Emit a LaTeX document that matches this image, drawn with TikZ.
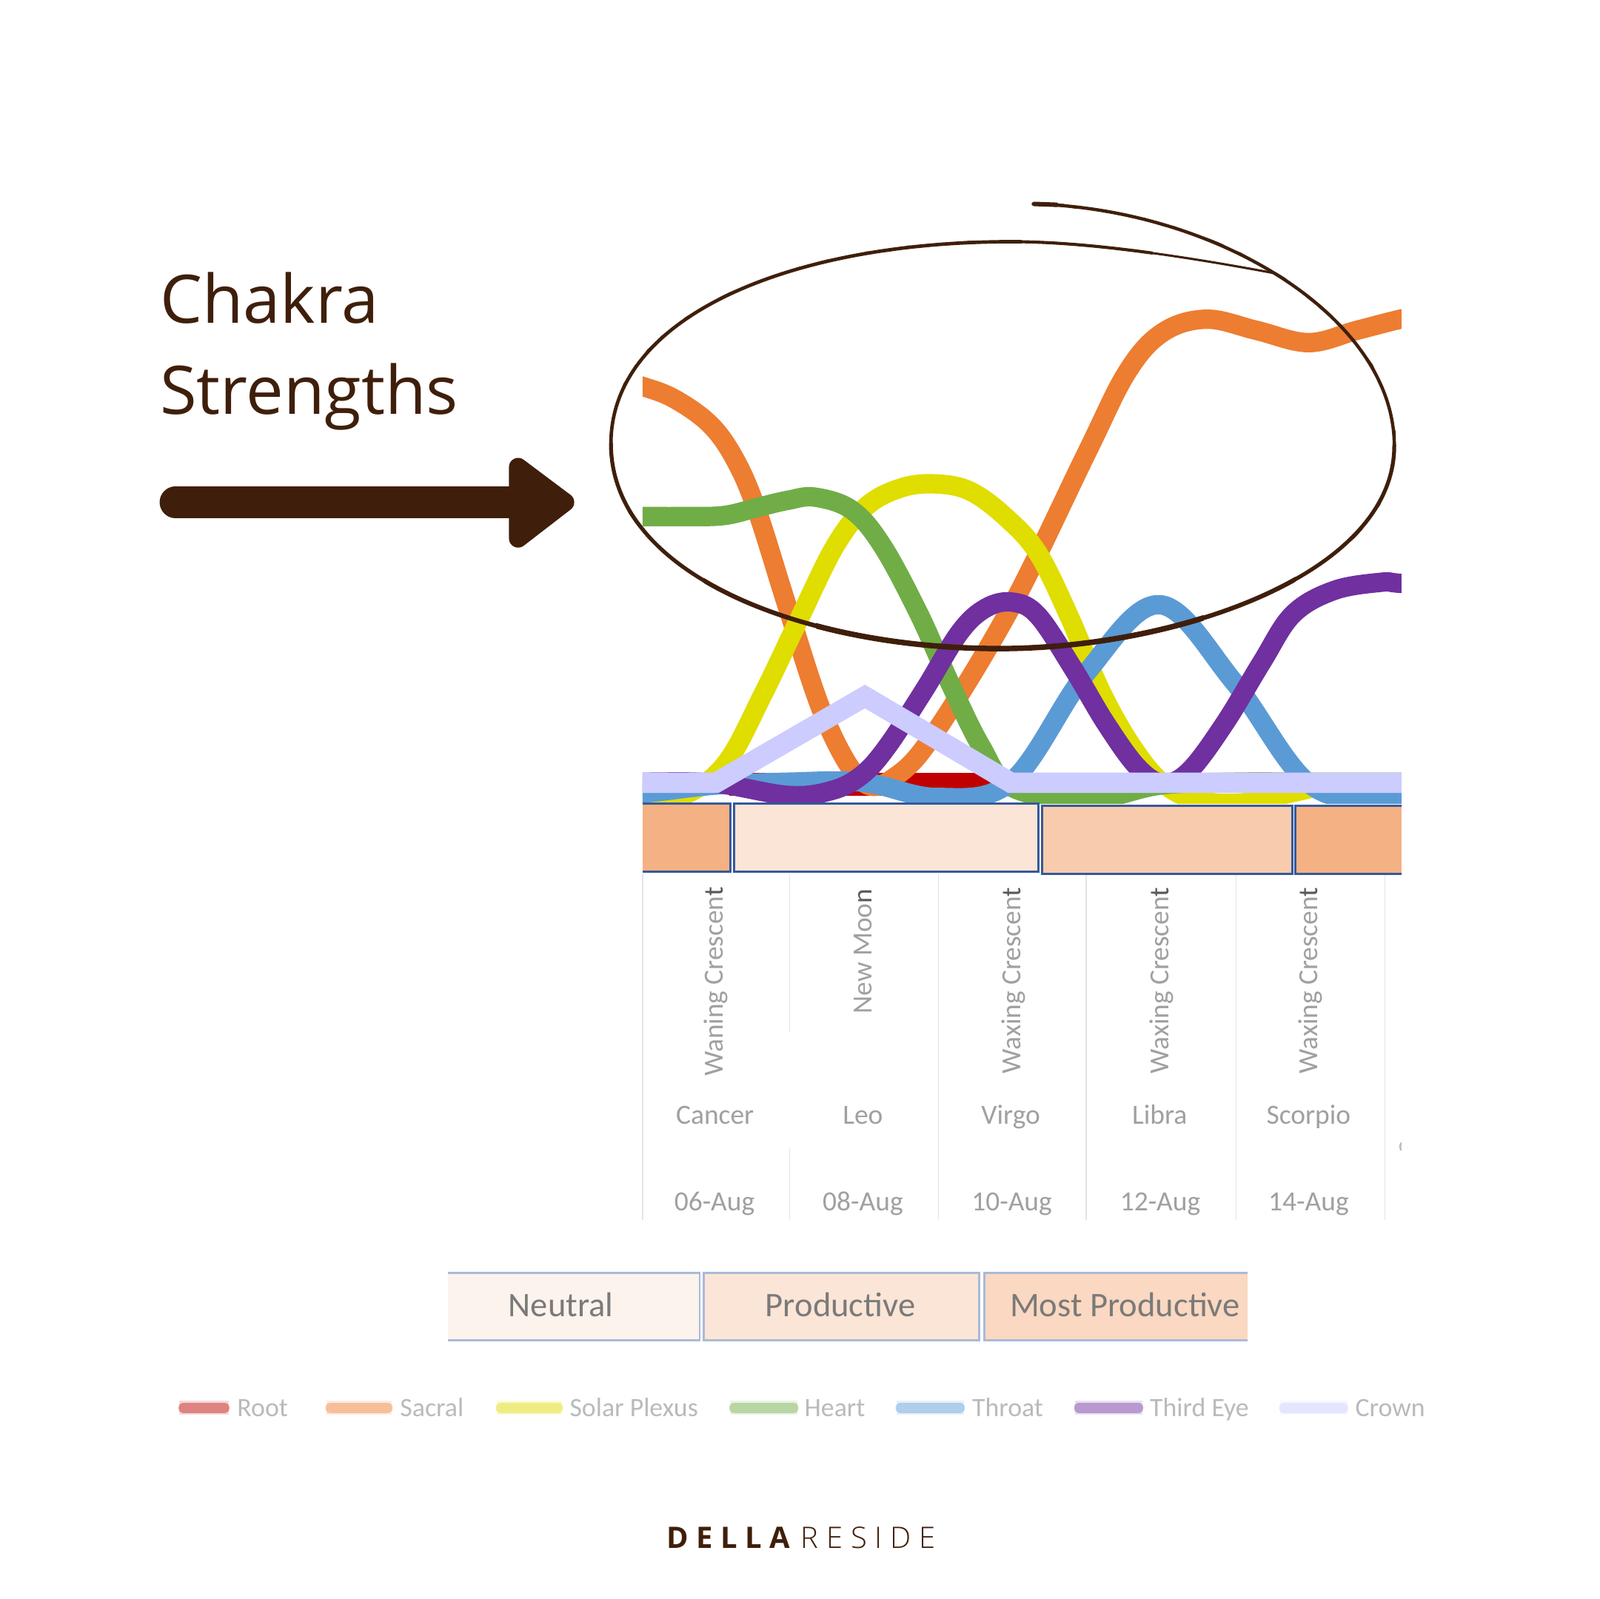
\documentclass[tikz,border=0pt]{standalone}
\usepackage{fontspec}
\setmainfont{Open Sans}
\newfontfamily\calib{Carlito}
\newfontfamily\oslight{Open Sans Light}
\usetikzlibrary{decorations.pathmorphing}
\definecolor{brn}{HTML}{3F1F0B}
\definecolor{cRoot}{HTML}{C00000}
\definecolor{cSacral}{HTML}{ED7D31}
\definecolor{cSolar}{HTML}{E0DD00}
\definecolor{cHeart}{HTML}{70AD47}
\definecolor{cThroat}{HTML}{5B9BD5}
\definecolor{cEye}{HTML}{7030A0}
\definecolor{cCrown}{HTML}{CCCCFF}
\definecolor{bord}{HTML}{36599B}
\definecolor{lbord}{HTML}{A9BAD8}
\definecolor{bA}{HTML}{F4B183}
\definecolor{bB}{HTML}{FBE5D6}
\definecolor{bC}{HTML}{F8CBAD}
\definecolor{gridc}{HTML}{E4E4E4}
\definecolor{tgray}{HTML}{A0A0A0}
\definecolor{tdark}{HTML}{5A5A5A}
\newcommand{\ringA}{(1013,200) .. controls (1195,205) and (1367,312) .. (1367,437)}
\newcommand{\ringB}{(1367,437) .. controls (1367,565) and (1150,636) .. (980,636)}
\newcommand{\ringC}{(980,636) .. controls (790,636) and (599,565) .. (599,435)}
\newcommand{\ringD}{(599,435) .. controls (599,310) and (775,237) .. (992,237)}
\newcommand{\ringE}{(992,237) .. controls (1070,237) and (1170,253) .. (1250,268)}
\tikzset{
  x=0.5pt,y=-0.5pt,
  chartline/.style={line width=9.5pt,line cap=butt,line join=round},
  hand/.style={draw=brn,line cap=round,line join=round},
  rough/.style={draw=brn,line width=.9pt,decorate,decoration={random steps,segment length=5pt,amplitude=.45pt}},
  vlab/.style={rotate=90,font=\calib\fontsize{13.55pt}{14pt}\selectfont,text=tgray,inner sep=0pt},
  hlab/.style={font=\calib\fontsize{13.6pt}{14pt}\selectfont,text=tgray,inner sep=0pt,anchor=base},
  band/.style={fill=#1,draw=none},
  bline/.style={draw=bord,line width=1pt},
  keybox/.style={fill=#1,draw=none},
  kline/.style={draw=lbord,line width=1pt},
  keytext/.style={font=\calib\fontsize{16.9pt}{18pt}\selectfont,text=black!52,inner sep=0pt,anchor=base},
  legt/.style={font=\calib\fontsize{13pt}{14pt}\selectfont,text=black!27,inner sep=0pt,anchor=base},
  title/.style={font=\fontsize{32.8pt}{36pt}\selectfont,text=brn,anchor=base west,inner sep=0pt},
  gridl/.style={draw=gridc,line width=0.5pt},
}
\begin{document}
\begin{tikzpicture}
\useasboundingbox[fill=white] (0,0) rectangle (1568,1568);

% title and arrow
\node[title] (t1) at (156.5,317) {Chakra};
\node[title] (t2) at (156.5,406) {Strengths};
\draw[brn,line width=15.5pt,line cap=round] (172,492.5) -- (510,492.5);
\fill[brn,draw=brn,line width=9pt,line join=round] (508,458) -- (554,492.5) -- (508,528) -- cycle;

% grid
\foreach \gx in {630,920,1065,1212,1358} \draw[gridl] (\gx,857) -- (\gx,1196);
\draw[gridl] (774,857) -- (774,1013);
\draw[gridl] (774,1126) -- (774,1196);

% chart
\begin{scope}
\clip (630,200) rectangle (1374,788);
\fill[cRoot] (715,757.8) rectangle (985,780);
\draw[cSacral,chartline] plot[smooth,tension=.6] coordinates {(590,368) (627,378) (661,391) (697,417) (722,453) (743,503) (773,598) (809,705) (846,767) (880,760) (919,715) (992,594) (1065,445) (1105,365) (1140,326) (1183,313) (1232,324) (1283,336) (1330,324) (1373,313) (1420,303)};
\draw[cSolar,chartline] plot[smooth,tension=.6] coordinates {(554,787) (627,785) (672,779) (712,748) (748,681) (784,606) (819,535) (850,496) (885,478) (919,474.6) (952,482) (987,508) (1018,543) (1049,606) (1079,677) (1110,732) (1140,768) (1175,785) (1222,787) (1268,777) (1300,772) (1340,782) (1373,787) (1429,787)};
\draw[cHeart,chartline] plot[smooth,tension=.6] coordinates {(590,506.5) (629,506.5) (670,506.5) (710,505.5) (745,497) (773,490.5) (799,487.5) (835,500) (865,535) (901,602) (931,669) (962,732) (992,772) (1065,785) (1137,770) (1210,767) (1283,767) (1356,767) (1429,767)};
\draw[cThroat,chartline] plot[smooth,tension=.6] coordinates {(554,780) (627,778) (700,770) (773,767) (846,767) (919,782) (992,766) (1065,660) (1137,593) (1210,669) (1283,768) (1356,785) (1429,780)};
\draw[cEye,chartline] plot[smooth,tension=.6] coordinates {(554,767) (627,767) (700,768) (773,780) (816,775) (845,760) (870,732) (906,677) (941,620) (967,596) (993,590.5) (1018,604) (1053,657) (1084,709) (1115,752) (1140,768) (1166,756) (1201,709) (1237,649.6) (1267.6,602.4) (1308,579) (1354,571) (1373,572) (1429,575)};
\draw[cCrown,line width=10pt,line join=miter] (629,767.5) -- (702,767.5) -- (848,683) -- (991,767.5) -- (1375,767.5);
\end{scope}

% phase bands
\fill[band=bA] (630,788) rectangle (716,855);
\draw[bline] (630,788) -- (716,788) -- (716,855) -- (630,855);
\filldraw[band=bB,bline] (720,788) rectangle (1018,855);
\filldraw[band=bC,bline] (1022,790) rectangle (1267,857);
\fill[band=bA] (1270,790) rectangle (1374,857);
\draw[bline] (1374,790) -- (1270,790) -- (1270,857) -- (1374,857);

% axis labels
\node[vlab] (m1) at (702,962.5) {Waning Crescen{\color{tdark}t}};
\node[vlab] (m2) at (846.5,933) {New Moo{\color{tdark}n}};
\node[vlab] (m3) at (993.5,961.5) {Waxing Crescen{\color{tdark}t}};
\node[vlab] (m4) at (1139,961.5) {Waxing Crescen{\color{tdark}t}};
\node[vlab] (m5) at (1285,961.5) {Waxing Crescen{\color{tdark}t}};
\node[hlab] (s1) at (701,1102) {Cancer};
\node[hlab] (s2) at (846,1102) {Leo};
\node[hlab] (s3) at (991,1102) {Virgo};
\node[hlab] (s4) at (1137,1102) {Libra};
\node[hlab] (s5) at (1283,1102) {Scorpio};
\node[hlab] (d1) at (700.5,1187) {06-Aug};
\node[hlab] (d2) at (846,1187) {08-Aug};
\node[hlab] (d3) at (992,1187) {10-Aug};
\node[hlab] (d4) at (1137.5,1187) {12-Aug};
\node[hlab] (d5) at (1283,1187) {14-Aug};
\begin{scope}
\clip (1360,1100) rectangle (1374,1150);
\node[vlab,text=tgray!70] (m6) at (1381,1125) {S};
\end{scope}

% productivity key
\fill[keybox=bB!45!white] (439,1248) rectangle (686,1314);
\draw[kline] (439,1248) -- (686,1248) -- (686,1314) -- (439,1314);
\filldraw[keybox=bB,kline] (690,1248) rectangle (960,1314);
\fill[keybox=bC!75!white] (965,1248) rectangle (1223,1314);
\draw[kline] (1223,1248) -- (965,1248) -- (965,1314) -- (1223,1314);
\node[keytext] (k1) at (550,1291) {Neutral};
\node[keytext] (k2) at (824,1291) {Productive};
\node[keytext] (k3) at (1103,1291) {Most Productive};

% legend (blurred in the reference)
\foreach \xa/\xb/\col in {176/224/cRoot,320/384/cSacral,487/551/cSolar,716/782/cHeart,879/945/cThroat,1054/1120/cEye,1255/1321/cCrown}{
  \draw[\col,line width=7pt,opacity=.15] (\xa,1380.5) -- (\xb,1380.5);
  \draw[\col,line width=5pt,opacity=.4,line cap=round] (\xa+4,1380.5) -- (\xb-4,1380.5);
}
\node[legt] (l1) at (257.5,1389) {Root};
\node[legt] (l2) at (423.5,1389) {Sacral};
\node[legt] (l3) at (621.5,1389) {Solar Plexus};
\node[legt] (l4) at (818.5,1389) {Heart};
\node[legt] (l5) at (988,1389) {Throat};
\node[legt] (l6) at (1176,1389) {Third Eye};
\node[legt] (l7) at (1363,1389) {Crown};

% hand-drawn ellipse
\draw[hand,line width=1.6pt] \ringA;
\draw[hand,line width=1.9pt] \ringB;
\draw[hand,line width=1.9pt] \ringC;
\draw[hand,line width=1.7pt] \ringD;
\begin{scope}
\clip (690,560) rectangle (1270,650);
\draw[hand,line width=2.2pt] \ringB;
\draw[hand,line width=2.2pt] \ringC;
\end{scope}
\begin{scope}
\clip (800,600) rectangle (1180,650);
\draw[hand,line width=2.7pt] \ringB;
\draw[hand,line width=2.7pt] \ringC;
\end{scope}
\begin{scope}
\clip (1000,230) rectangle (1130,260);
\draw[hand,line width=1.5pt] \ringE;
\end{scope}
\begin{scope}
\clip (980,230) rectangle (1002,245);
\draw[hand,line width=1.7pt] \ringE;
\end{scope}
\draw[hand,line width=1.1pt] \ringE;
\draw[hand,line width=2.2pt] (1014,200) -- (1036,200.8);
\draw[rough] \ringA;
\draw[rough] \ringB;
\draw[rough] \ringC;
\draw[rough] \ringD;

% footer
\node[font=\bfseries\fontsize{14.5pt}{16pt}\selectfont\addfontfeature{LetterSpace=26},text=brn,anchor=base west,inner sep=0pt] (f1) at (653.5,1518) {DELLA};
\node[font=\oslight\fontsize{14.5pt}{16pt}\selectfont\addfontfeature{LetterSpace=27},text=brn,anchor=base west,inner sep=0pt] (f2) at (785,1518) {RESIDE};
\end{tikzpicture}
\end{document}
